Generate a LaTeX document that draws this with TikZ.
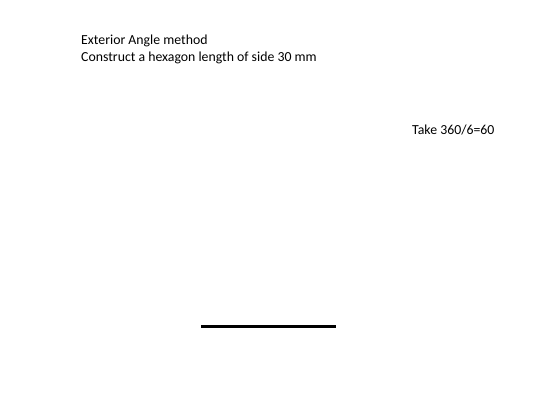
\documentclass[tikz,border=0pt]{standalone}
\usepackage{fontspec}
\setmainfont{Carlito}
\begin{document}
\begin{tikzpicture}[x=1pt,y=-1pt,
  lbl/.style={inner sep=0pt,anchor=base west,font=\fontsize{13.8}{16}\selectfont}]
\useasboundingbox (0,0) rectangle (560,420);
\node[lbl] (t1) at (81,45) {Exterior Angle method};
\node[lbl] (t2) at (81,62) {Construct a hexagon length of side 30 mm};
\node[lbl] (t3) at (412,134) {Take 360/6=60};
\coordinate (a) at (201,326);
\coordinate (b) at (336,326);
\draw[line width=3pt] (a) -- (b);
\end{tikzpicture}
\end{document}
